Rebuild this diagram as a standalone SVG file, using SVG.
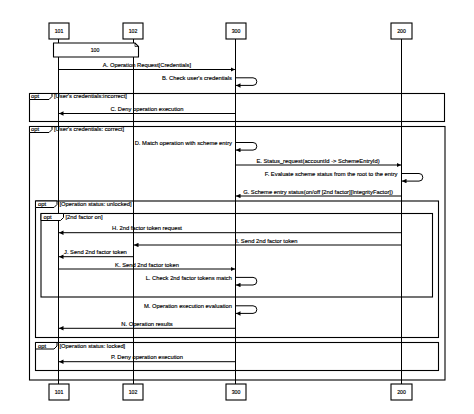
<svg xmlns="http://www.w3.org/2000/svg" width="474" height="414" viewBox="0 0 474 414">
<defs>
<marker id="ah" viewBox="0 0 10 10" refX="10" refY="5" markerWidth="4.5" markerHeight="4.5" orient="auto" markerUnits="userSpaceOnUse"><path d="M0,0 L10,5 L0,10 z" fill="#000"/></marker>
</defs>
<style>
text{font-family:"Liberation Sans",Arial,sans-serif;font-size:5.8px;fill:#000;stroke:#000;stroke-width:0.15}
.box{fill:#fff;stroke:#000;stroke-width:1.1}
.life{stroke:#000;stroke-width:1;fill:none}
.frame{fill:none;stroke:#000;stroke-width:1.1}
.tab{fill:#fff;stroke:#000;stroke-width:1}
.msg{stroke:#000;stroke-width:1;fill:none;marker-end:url(#ah)}
.lbl{font-size:5.2px}
.c{text-anchor:middle}
.r{text-anchor:end}
</style>
<rect width="474" height="414" fill="#fff" stroke="none"/>

<g id="p101">
<line class="life" x1="58.5" y1="39" x2="58.5" y2="384"/>
<rect class="box" x="49" y="23" width="20" height="16"/>
<text class="lbl c" x="59" y="33">101</text>
<rect class="box" x="49" y="384" width="20" height="16"/>
<text class="lbl c" x="59" y="394">101</text>
</g>
<g id="p102">
<line class="life" x1="133.5" y1="39" x2="133.5" y2="384"/>
<rect class="box" x="123" y="23" width="20" height="16"/>
<text class="lbl c" x="133" y="33">102</text>
<rect class="box" x="123" y="384" width="20" height="16"/>
<text class="lbl c" x="133" y="394">102</text>
</g>
<g id="p300">
<line class="life" x1="235.5" y1="39" x2="235.5" y2="384"/>
<rect class="box" x="226" y="23" width="20" height="16"/>
<text class="lbl c" x="236" y="33">300</text>
<rect class="box" x="226" y="384" width="20" height="16"/>
<text class="lbl c" x="236" y="394">300</text>
</g>
<g id="p200">
<line class="life" x1="401.5" y1="39" x2="401.5" y2="384"/>
<rect class="box" x="391" y="23" width="21" height="16"/>
<text class="lbl c" x="401.5" y="33">200</text>
<rect class="box" x="391" y="384" width="21" height="16"/>
<text class="lbl c" x="401.5" y="394">200</text>
</g>

<g id="note100">
<path class="box" d="M53.5,43 H135 L138.5,46.5 V57 H53.5 Z"/>
<path d="M135,43 V46.5 H138.5" fill="none" stroke="#000" stroke-width="0.7"/>
<text class="lbl c" x="95" y="52">100</text>
</g>

<g id="opt1">
<rect class="frame" x="29.5" y="93.5" width="415" height="28"/>
<path class="tab" d="M29.5,93.5 H52 V96.5 L49,99.5 H29.5 Z"/>
<text x="31" y="98.3">opt</text>
<text x="54" y="98.3">[User's credentials:incorrect]</text>
</g>
<g id="opt2">
<rect class="frame" x="29.5" y="126.5" width="415.5" height="253.5"/>
<path class="tab" d="M29.5,126.5 H52 V129.5 L49,132.5 H29.5 Z"/>
<text x="31" y="131.3">opt</text>
<text x="54" y="131.3">[User's credentials: correct]</text>
</g>
<g id="opt3">
<rect class="frame" x="35.5" y="201" width="403" height="136.5"/>
<path class="tab" d="M35.5,201 H57 V204.5 L54,207.5 H35.5 Z"/>
<text x="38" y="206">opt</text>
<text x="59.5" y="206">[Operation status: unlocked]</text>
</g>
<g id="opt4">
<rect class="frame" x="41" y="213.5" width="391.5" height="83.5"/>
<path class="tab" d="M41,213.5 H63.5 V217.5 L60.5,220.5 H41 Z"/>
<text x="43.5" y="218.5">opt</text>
<text x="65.5" y="218.5">[2nd factor on]</text>
</g>
<g id="opt5">
<rect class="frame" x="35.5" y="342.5" width="403" height="28"/>
<path class="tab" d="M35.5,342.5 H57 V346 L54,349 H35.5 Z"/>
<text x="38" y="347.5">opt</text>
<text x="59.5" y="347.5">[Operation status: locked]</text>
</g>

<g id="connectors">
<line class="msg" x1="58.5" y1="69.5" x2="235" y2="69.5"/>
<text class="c" x="147" y="67">A. Operation Request[Credentials]</text>

<path class="msg" d="M235.5,77.8 H253 A3.8,3.8 0 0 1 253,85.4 H236"/>
<text class="r" x="232" y="80">B. Check user's credentials</text>

<line class="msg" x1="235.5" y1="113.5" x2="59" y2="113.5"/>
<text class="c" x="147" y="111">C. Deny operation execution</text>

<path class="msg" d="M235.5,142.5 H253 A3.8,3.8 0 0 1 253,150.1 H236"/>
<text class="r" x="232" y="145">D. Match operation with scheme entry</text>

<line class="msg" x1="235.5" y1="165" x2="401" y2="165"/>
<text class="c" x="318" y="162.5">E. Status_request(accountId -&gt; SchemeEntryId)</text>

<path class="msg" d="M401.5,173.5 H419 A3.8,3.8 0 0 1 419,181.1 H402"/>
<text class="r" x="397.5" y="176">F. Evaluate scheme status from the root to the entry</text>

<line class="msg" x1="401.5" y1="196" x2="236" y2="196"/>
<text class="c" x="318" y="193.5">G. Scheme entry status(on/off [2nd factor][IntegrityFactor])</text>

<line class="msg" x1="401.5" y1="232.7" x2="59" y2="232.7"/>
<text class="c" x="147" y="230.2">H. 2nd factor token request</text>

<line class="msg" x1="401.5" y1="245" x2="134" y2="245"/>
<text x="236" y="242.5">I. Send 2nd factor token</text>

<line class="msg" x1="133.5" y1="256.7" x2="59" y2="256.7"/>
<text x="64" y="254.2">J. Send 2nd factor token</text>

<line class="msg" x1="58.5" y1="269" x2="235" y2="269"/>
<text class="c" x="147" y="266.5">K. Send 2nd factor token</text>

<path class="msg" d="M235.5,277.4 H253 A3.8,3.8 0 0 1 253,285 H236"/>
<text class="r" x="232" y="279.5">L. Check 2nd factor tokens match</text>

<path class="msg" d="M235.5,305.8 H253 A3.8,3.8 0 0 1 253,313.4 H236"/>
<text class="r" x="232" y="307.8">M. Operation execution evaluation</text>

<line class="msg" x1="235.5" y1="328.3" x2="59" y2="328.3"/>
<text class="c" x="147" y="325.8">N. Operation results</text>

<line class="msg" x1="235.5" y1="361.7" x2="59" y2="361.7"/>
<text class="c" x="147" y="359.2">P. Deny operation execution</text>
</g>
</svg>
